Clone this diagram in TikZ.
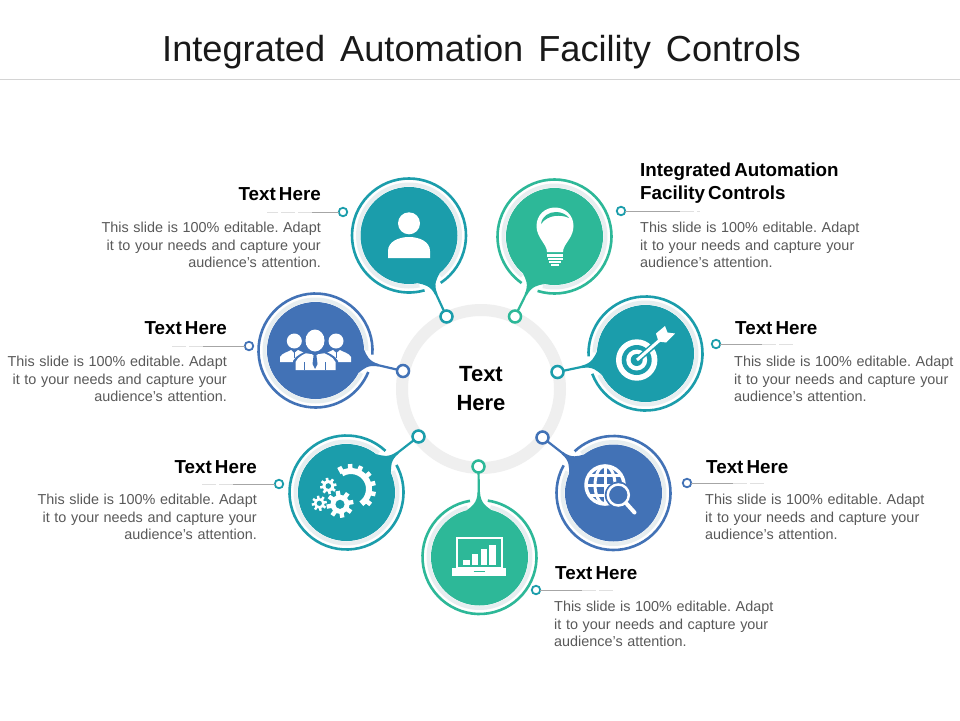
\documentclass[tikz,border=0pt]{standalone}
\usepackage{fontspec}
\setmainfont{Liberation Sans}
\usetikzlibrary{calc}
\definecolor{teal1}{HTML}{1B9DAB}
\definecolor{green1}{HTML}{2DB898}
\definecolor{blue1}{HTML}{4272B6}
\definecolor{pale}{HTML}{E7EEF0}
\definecolor{hubgrey}{HTML}{EFEFEF}
\definecolor{bodygrey}{HTML}{595959}
\tikzset{
  disk/.style={circle,fill=#1,minimum size=97pt,inner sep=0pt,outer sep=0pt},
  tipnode/.style={circle,draw=#1,fill=white,line width=2.5pt,minimum size=12pt,inner sep=0pt,outer sep=0pt},
  leadnode/.style={circle,draw=#1,fill=white,line width=1.8pt,minimum size=8.5pt,inner sep=0pt,outer sep=0pt},
  leadline/.style={draw=black!35,line width=0.8pt},
  fadeline/.style={draw=black!12,line width=0.8pt,dash pattern=on 14pt off 3pt},
  heading/.style={font=\bfseries\fontsize{18.8}{23}\selectfont,inner sep=0pt,text=black},
  blurb/.style={font=\fontsize{14.4}{17.5}\selectfont,inner sep=0pt,text=bodygrey},
  icon/.style={fill=white,draw=none},
}
% name, cx, cy, tx, ty, colour
\newcommand{\bubble}[6]{%
  \pgfmathsetmacro\bang{atan2(-(#5-#3),#4-#2)}%
  \node[disk=#6] (d#1) at (#2,#3) {};
  \node[tipnode=#6] (t#1) at (#4,#5) {};
  \begin{scope}[shift={(d#1.center)},rotate=\bang]
    \draw[pale,line width=4pt] (13:51pt) arc[start angle=13,end angle=347,radius=51pt];
    \draw[#6,line width=2.6pt] (9:57pt) arc[start angle=9,end angle=351,radius=57pt];
    \fill[#6] (47,12) .. controls (51,7) and (54,1.6) .. (65,1.2) -- (65,-1.2) .. controls (54,-1.6) and (51,-7) .. (47,-12) -- cycle;
  \end{scope}
  \draw[#6,line width=2.2pt] (d#1) -- (t#1);
}
% name, x, y, fade-end x, colour, solid-end x
\newcommand{\leader}[6]{%
  \node[leadnode=#5] (l#1) at (#2,#3) {};
  \coordinate (e#1) at (#6,#3);
  \coordinate (f#1) at (#4,#3);
  \draw[leadline] (l#1) -- (e#1);
  \draw[fadeline] (e#1) -- (f#1);
}
\newcommand{\hgap}{\hspace{3.2pt}}
\newcommand{\bgap}{\hspace{4.6pt}}
\newcommand{\blurbtext}{This\bgap slide\bgap is\bgap 100\%\bgap editable.\bgap Adapt\\it\bgap to\bgap your\bgap needs\bgap and\bgap capture\bgap your\\audience's\bgap attention.}
% x, y, inner R, tooth R, colour
\newcommand{\gearicon}[5]{%
  \foreach \a in {0,45,...,315}{\draw[white,line width=#4*0.32pt] ($(#1,#2)+(\a+10:#3*0.8pt)$) -- ($(#1,#2)+(\a+10:#4 pt)$);}
  \fill[white] (#1,#2) circle[radius=#3 pt];
  \fill[#5] (#1,#2) circle[radius=#3*0.48pt];
}
\begin{document}
\begin{tikzpicture}[x=1pt,y=-1pt]
\useasboundingbox (0,0) rectangle (960,720);
\fill[white] (0,0) rectangle (960,720);
\node[font=\fontsize{36.2}{44}\selectfont,text=black!90,inner sep=0pt] (title) at (481.5,52) {Integrated\hspace{15pt}Automation\hspace{15pt}Facility\hspace{15pt}Controls};
\coordinate (ruleL) at (0,79.5); \coordinate (ruleR) at (960,79.5);
\draw[black!17,line width=0.8pt] (ruleL) -- (ruleR);

\node[circle,draw=hubgrey,line width=12pt,minimum size=158pt,inner sep=0pt,align=center,
      font=\bfseries\fontsize{22}{29}\selectfont] (hub) at (481,389) {Text\\Here};

\bubble{a}{409}{235.5}{446.5}{316.5}{teal1}
\bubble{b}{554.5}{236.5}{515}{316.5}{green1}
\bubble{c}{645.5}{353.5}{557.5}{372}{teal1}
\bubble{d}{613.5}{493}{542.5}{437.5}{blue1}
\bubble{e}{479.5}{557}{478.5}{466.5}{green1}
\bubble{f}{346.5}{492.5}{418.5}{436.5}{teal1}
\bubble{g}{315.5}{350.5}{403}{371}{blue1}

\leader{a}{343}{212}{267}{teal1}{312}
\leader{b}{621}{211}{700}{teal1}{680}
\leader{c}{716}{344}{794}{teal1}{762}
\leader{d}{687}{483}{765}{blue1}{733}
\leader{e}{536}{590}{614}{teal1}{582}
\leader{f}{279}{484}{201}{teal1}{233}
\leader{g}{249}{346}{171}{blue1}{203}

% texts
\node[heading,anchor=east] (ha) at (321,194) {Text\hgap Here};
\node[blurb,anchor=east,align=right] (ba) at (321,245) {\blurbtext};
\node[heading,anchor=west,align=left] (hb) at (640,183) {Integrated\hgap Automation\\Facility\hgap Controls};
\node[blurb,anchor=west,align=left] (bb) at (640,245) {\blurbtext};
\node[heading,anchor=west] (hc) at (735,328.5) {Text\hgap Here};
\node[blurb,anchor=west,align=left] (bc) at (734,379) {\blurbtext};
\node[heading,anchor=west] (hd) at (706,467.5) {Text\hgap Here};
\node[blurb,anchor=west,align=left] (bd) at (705,517) {\blurbtext};
\node[heading,anchor=west] (he) at (555,573.5) {Text\hgap Here};
\node[blurb,anchor=west,align=left] (be) at (554,624) {\blurbtext};
\node[heading,anchor=east] (hf) at (257,467.5) {Text\hgap Here};
\node[blurb,anchor=east,align=right] (bf) at (257,517) {\blurbtext};
\node[heading,anchor=east] (hg) at (227,328.5) {Text\hgap Here};
\node[blurb,anchor=east,align=right] (bg) at (227,379) {\blurbtext};

% icon: person
\fill[icon] (409,223.3) circle[radius=11pt];
\fill[icon] (388,258) -- (388,251) .. controls (388,242) and (398,237) .. (409,237) .. controls (420,237) and (430,242) .. (430,251) -- (430,258) -- cycle;

% icon: bulb
\fill[icon] (547,252) .. controls (547,244) and (536.5,238) .. (536.5,226) .. controls (536.5,215) and (545,207.5) .. (555,207.5) .. controls (565,207.5) and (573.5,215) .. (573.5,226) .. controls (573.5,238) and (563,244) .. (563,252) -- cycle;
\fill[green1] (541,224) .. controls (542,216) and (549,212) .. (556,212) .. controls (561,212) and (566,214) .. (569,218) .. controls (562,214.5) and (548,214) .. (541,224) -- cycle;
\fill[icon] (547,253.5) rectangle (563,256.5);
\fill[icon] (547.5,257.5) rectangle (562.5,260);
\fill[icon] (549,261) rectangle (561,263);
\fill[icon] (551,264) rectangle (559,266);

% icon: target
\fill[icon] (636.7,360) circle[radius=20.7pt];
\fill[teal1] (636.7,360) circle[radius=15pt];
\fill[icon] (636.7,360) circle[radius=10.5pt];
\fill[teal1] (636.7,360) circle[radius=6pt];
\draw[teal1,line width=6pt] (637,360) -- (660,340);
\draw[white,line width=3pt] (637,360) -- (661,339);
\fill[icon] (656,333.5) -- (665,326) -- (667.5,332.5) -- (675,333.5) -- (666,342.5) -- (658.5,341.5) -- cycle;

% icon: globe
\draw[white,line width=3.5pt] (605,485) circle[radius=19pt];
\draw[white,line width=3pt] (605,485) ellipse[x radius=10pt,y radius=19pt];
\draw[white,line width=3pt] (605,466) -- (605,504);
\draw[white,line width=3pt] (586.5,485) -- (623.5,485);
\draw[white,line width=3pt] (590,475) -- (620,475);
\draw[white,line width=3pt] (590,495) -- (620,495);
\fill[blue1] (618.3,495) circle[radius=13.5pt];
\draw[white,line width=2.5pt] (618.3,495) circle[radius=10.5pt];
\draw[white,line width=4pt,line cap=round] (626,503) -- (634.5,512.5);

% icon: laptop
\draw[white,line width=2.2pt] (456.8,537.8) rectangle (501.6,568);
\fill[icon] (452.3,568) rectangle (506,576);
\draw[green1,line width=1pt] (473.5,571.8) -- (485,571.8);
\fill[icon] (463.3,560) rectangle (470,565);
\fill[icon] (471.7,554.3) rectangle (478.3,565);
\fill[icon] (480.7,549.3) rectangle (487.3,565);
\fill[icon] (489,545) rectangle (495.7,565);

% icon: gears
\draw[white,line width=6pt] (351,489) ++(120:18pt) arc[start angle=120,end angle=-55,radius=18pt];
\foreach \a in {118,92,...,-55}{
  \draw[white,line width=4.5pt] ($(351,489)+(\a:18pt)$) -- ($(351,489)+(\a:25pt)$);
}
\gearicon{340}{504.3}{9.5}{13.5}{teal1}
\gearicon{328.3}{486}{5.8}{8.2}{teal1}
\gearicon{319.3}{503.3}{5.4}{7.6}{teal1}

% icon: people
\fill[icon] (294.3,341) circle[radius=7.5pt];
\fill[icon] (336,341) circle[radius=7.5pt];
\fill[icon] (280,362) -- (280,357) .. controls (282,353) and (288,352) .. (291,350) -- (294.3,353) -- (298,350) .. controls (302,352) and (306,353) .. (308,356) -- (308,362) -- cycle;
\fill[icon] (351,362) -- (351,357) .. controls (349,353) and (343,352) .. (340,350) -- (336.5,353) -- (333,350) .. controls (329,352) and (325,353) .. (322,356) -- (322,362) -- cycle;
\draw[blue1,line width=1.5pt] (294.3,352) -- (294.3,358);
\draw[blue1,line width=1.5pt] (336.5,352) -- (336.5,358);
\fill[blue1] (293,371) -- (293,361) .. controls (296,355) and (303,353) .. (308,350) -- (322,350) .. controls (328,353) and (335,355) .. (338,361) -- (338,371) -- cycle;
\fill[icon] (295.5,370) -- (295.5,362) .. controls (298,356) and (305,354) .. (309,351.5) -- (315,357) -- (321,351.5) .. controls (325,354) and (333,356) .. (335.5,362) -- (335.5,370) -- cycle;
\fill[blue1] (313.5,356) -- (316.5,356) -- (317.5,364) -- (315,369) -- (312.5,364) -- cycle;
\fill[blue1] (304,362) rectangle (305,370);
\fill[blue1] (325,362) rectangle (326,370);
\fill[blue1] (315,352) ellipse[x radius=11.5pt,y radius=2pt];
\fill[icon] (315,340.5) ellipse[x radius=9.5pt,y radius=11pt];
\end{tikzpicture}
\end{document}
